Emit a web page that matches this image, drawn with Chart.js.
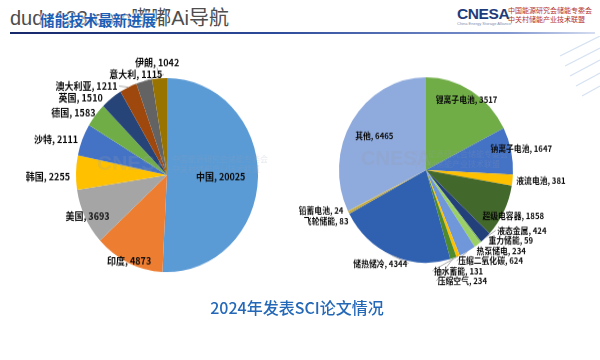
<!DOCTYPE html>
<html><head><meta charset="utf-8">
<script src="https://cdn.jsdelivr.net/npm/chart.js@4.4.1/dist/chart.umd.min.js"></script>
<style>
html,body{margin:0;padding:0;background:#fff;width:600px;height:360px;overflow:hidden;font-family:"Noto Sans CJK SC","Liberation Sans",sans-serif;}
.abs{position:absolute;white-space:nowrap;}
</style></head>
<body>
<div class="abs" style="left:10px;top:7px;font-size:20px;line-height:22px;color:#4d4d4d;font-family:'Liberation Sans','Noto Sans CJK SC';">dudu123.com嘟嘟Ai导航</div>
<div class="abs" style="left:40px;top:11px;font-size:14.5px;line-height:17px;color:#1d5fb5;font-weight:bold;text-shadow:0 0 2px #fff,0 0 2px #fff,0 0 3px #fff;">储能技术最新进展</div>
<div class="abs" style="left:10px;top:32px;width:585px;height:2px;background:linear-gradient(to right,#17286a,#2c4a9a 45%,#7f95cf 85%,#d5ddf0);"></div>
<div class="abs" style="left:457px;top:5px;font-size:15.5px;line-height:18px;font-weight:bold;color:#1e3c7c;font-family:'Liberation Sans';letter-spacing:-0.4px;">CNESA</div>
<div class="abs" style="left:457px;top:21px;font-size:4px;line-height:5px;color:#8090b0;font-family:'Liberation Sans';">China Energy Storage Alliance</div>
<div class="abs" style="left:508px;top:6px;font-size:7px;line-height:8px;color:#b5342e;">中国能源研究会储能专委会</div>
<div class="abs" style="left:508px;top:15px;font-size:7px;line-height:8px;color:#b5342e;">中关村储能产业技术联盟</div>
<svg class="abs" style="left:540px;top:36px" width="60" height="80">
<g stroke="#d6e2f2" stroke-width="1.2">
<line x1="20" y1="20" x2="60" y2="0"/><line x1="25" y1="30" x2="60" y2="12"/><line x1="30" y1="40" x2="60" y2="24"/><line x1="36" y1="50" x2="60" y2="37"/><line x1="42" y1="60" x2="60" y2="50"/>
</g></svg>

<div id="lw" class="abs" style="left:17px;top:45px;width:300px;height:260px;transform:scaleY(1.066);transform-origin:50% 50%;">
<canvas id="c1" width="300" height="260"></canvas></div>
<div id="rw" class="abs" style="left:276px;top:40px;width:300px;height:260px;transform:scaleY(1.066);transform-origin:50% 50%;">
<canvas id="c2" width="300" height="260"></canvas></div>

<div class="abs" style="left:97px;top:151px;font-size:21px;line-height:24px;font-weight:bold;color:rgba(150,160,180,0.2);font-family:'Liberation Sans';">CNESA</div>
<div class="abs" style="left:172px;top:154px;font-size:8px;line-height:10px;color:rgba(150,160,180,0.22);">中国能源研究会储能专委会<br>中关村储能产业技术联盟</div>
<div class="abs" style="left:361px;top:146px;font-size:20px;line-height:24px;font-weight:bold;color:rgba(150,160,180,0.24);font-family:'Liberation Sans';">CNESA</div>
<div class="abs" style="left:412px;top:149px;font-size:8px;line-height:10px;color:rgba(150,160,180,0.22);">中国能源研究会储能专委会<br>中关村储能产业技术联盟</div>

<div class="abs" style="left:0;width:594px;top:296px;text-align:center;font-size:16px;line-height:22px;color:#2468b8;font-weight:500;">2024年发表SCI论文情况</div>

<script>
// ---- data ----
const countries = ['中国','印度','美国','韩国','沙特','德国','英国','澳大利亚','意大利','伊朗'];
const countryPapers = [20025, 4873, 3693, 2255, 2111, 1583, 1510, 1211, 1115, 1042];
const techs = ['锂离子电池','钠离子电池','液流电池','超级电容器','液态金属','重力储能','热泵储电','压缩二氧化碳','抽水蓄能','压缩空气','储热储冷','飞轮储能','铅蓄电池','其他'];
const techPapers = [3517, 1647, 381, 1858, 424, 59, 234, 624, 131, 234, 4344, 83, 24, 6465];

// ---- styles ----
const countryColors = ['#5b9bd5','#ed7d31','#a5a5a5','#ffc000','#4472c4','#70ad47','#264478','#9e480e','#636363','#997300'];
const techColors = ['#70ad47','#4472c4','#ffc000','#43682b','#24407a','#7fb85a','#9bd064','#6f97da','#ffc000','#4e8a2e','#3061b0','#bfa640','#e0b000','#8faadc'];

const pieLabels = {
  id: 'pieLabels',
  afterDatasetsDraw(chart, args, opts) {
    const ctx = chart.ctx;
    const meta = chart.getDatasetMeta(0);
    const labels = chart.data.labels;
    const vals = chart.data.datasets[0].data;
    ctx.save();
    ctx.font = opts.font;
    ctx.fillStyle = '#0a0a0a';
    ctx.textBaseline = 'middle';
    const H = opts.h, gap = opts.gap;
    const outs = [];
    meta.data.forEach((arc, i) => {
      const p = arc.getProps(['x','y','startAngle','endAngle','outerRadius'], true);
      const a = (p.startAngle + p.endAngle) / 2;
      const ux = Math.cos(a), uy = Math.sin(a);
      const mode = opts.modes[i];
      const text = labels[i] + ', ' + vals[i];
      const w = ctx.measureText(text).width;
      if (mode.m === 'in') {
        ctx.textAlign = 'center';
        ctx.fillText(text, p.x + ux * p.outerRadius * mode.f, p.y + uy * p.outerRadius * mode.f);
      } else {
        const r = p.outerRadius + opts.dist;
        const px = p.x + ux * r, py = p.y + uy * r;
        const o = {text, w, ux, uy, ex: p.x + ux * p.outerRadius, ey: p.y + uy * p.outerRadius,
          cx: px + ux * w / 2, cy: py + uy * H / 2 + opts.dy, side: ux < 0 ? -1 : 1, ox: p.x, oy: p.y, r};
        o.cx0 = o.cx; o.cy0 = o.cy;
        outs.push(o);
      }
    });
    outs.sort((A, B) => A.cy0 - B.cy0);
    const need = H + gap;
    for (let it = 0; it < 500; it++) {
      let moved = false;
      for (let a = 0; a < outs.length; a++) for (let b = a + 1; b < outs.length; b++) {
        const A = outs[a], B = outs[b];
        const xo = Math.min(A.cx + A.w / 2, B.cx + B.w / 2) - Math.max(A.cx - A.w / 2, B.cx - B.w / 2);
        if (xo <= 0) continue;
        const dy = B.cy - A.cy;
        if (dy < need - 0.01) {
          const push = (need - dy) / 2;
          A.cy -= push; B.cy += push;
          moved = true;
        }
      }
      outs.forEach(o => {
        if (Math.abs(o.ux) > 0.2 && Math.abs(o.cy - o.cy0) > 0.5) {
          const dy = o.cy - o.oy;
          if (Math.abs(dy) < o.r) {
            const ex = o.ox + o.side * Math.sqrt(o.r * o.r - dy * dy);
            o.cx = ex + o.side * o.w / 2;
          }
        }
      });
      if (!moved) break;
    }
    ctx.strokeStyle = '#9a9a9a';
    ctx.lineWidth = 0.8;
    outs.forEach(o => {
      let ax, ay;
      if (Math.abs(o.ux) > 0.2) { ax = o.cx - o.side * (o.w / 2 + 1.5); ay = o.cy; }
      else { ax = o.cx; ay = o.cy + (o.uy < 0 ? H / 2 : -H / 2); }
      const d = Math.hypot(ax - o.ex, ay - o.ey);
      if (d > opts.lineMin) {
        ctx.beginPath(); ctx.moveTo(o.ex, o.ey); ctx.lineTo(ax, ay); ctx.stroke();
      }
      ctx.textAlign = 'center';
      ctx.fillText(o.text, o.cx, o.cy);
    });
    ctx.restore();
  }
};

function makePie(id, labels, data, colors, radius, labelOpts) {
  new Chart(document.getElementById(id), {
    type: 'pie',
    data: { labels, datasets: [{ data, backgroundColor: colors, borderWidth: 0, radius }] },
    options: {
      responsive: false, animation: false,
      layout: { padding: 0 },
      plugins: {
        legend: { display: false }, tooltip: { enabled: false },
        pieLabels: labelOpts
      }
    },
    plugins: [pieLabels]
  });
}

const O = { m: 'out' };
makePie('c1', countries, countryPapers, countryColors, 91, {
  font: 'bold 9px "Noto Sans CJK SC"', h: 9, gap: 1.8, dist: 6, dy: 4, lineMin: 8,
  modes: [{ m: 'in', f: 0.59 }, { m: 'in', f: 0.98 }, { m: 'in', f: 0.97 }, O, O, O, O, O, O, O]
});
makePie('c2', techs, techPapers, techColors, 87, {
  font: 'bold 7.8px "Noto Sans CJK SC"', h: 8, gap: 1.5, dist: 4, dy: 0, lineMin: 8,
  modes: [{ m: 'in', f: 0.89 }, { m: 'in', f: 1.12 }, O, { m: 'in', f: 1.12 }, O, O, O, O, O, O, O, O, O, { m: 'in', f: 0.70 }]
});
</script>
</body></html>
